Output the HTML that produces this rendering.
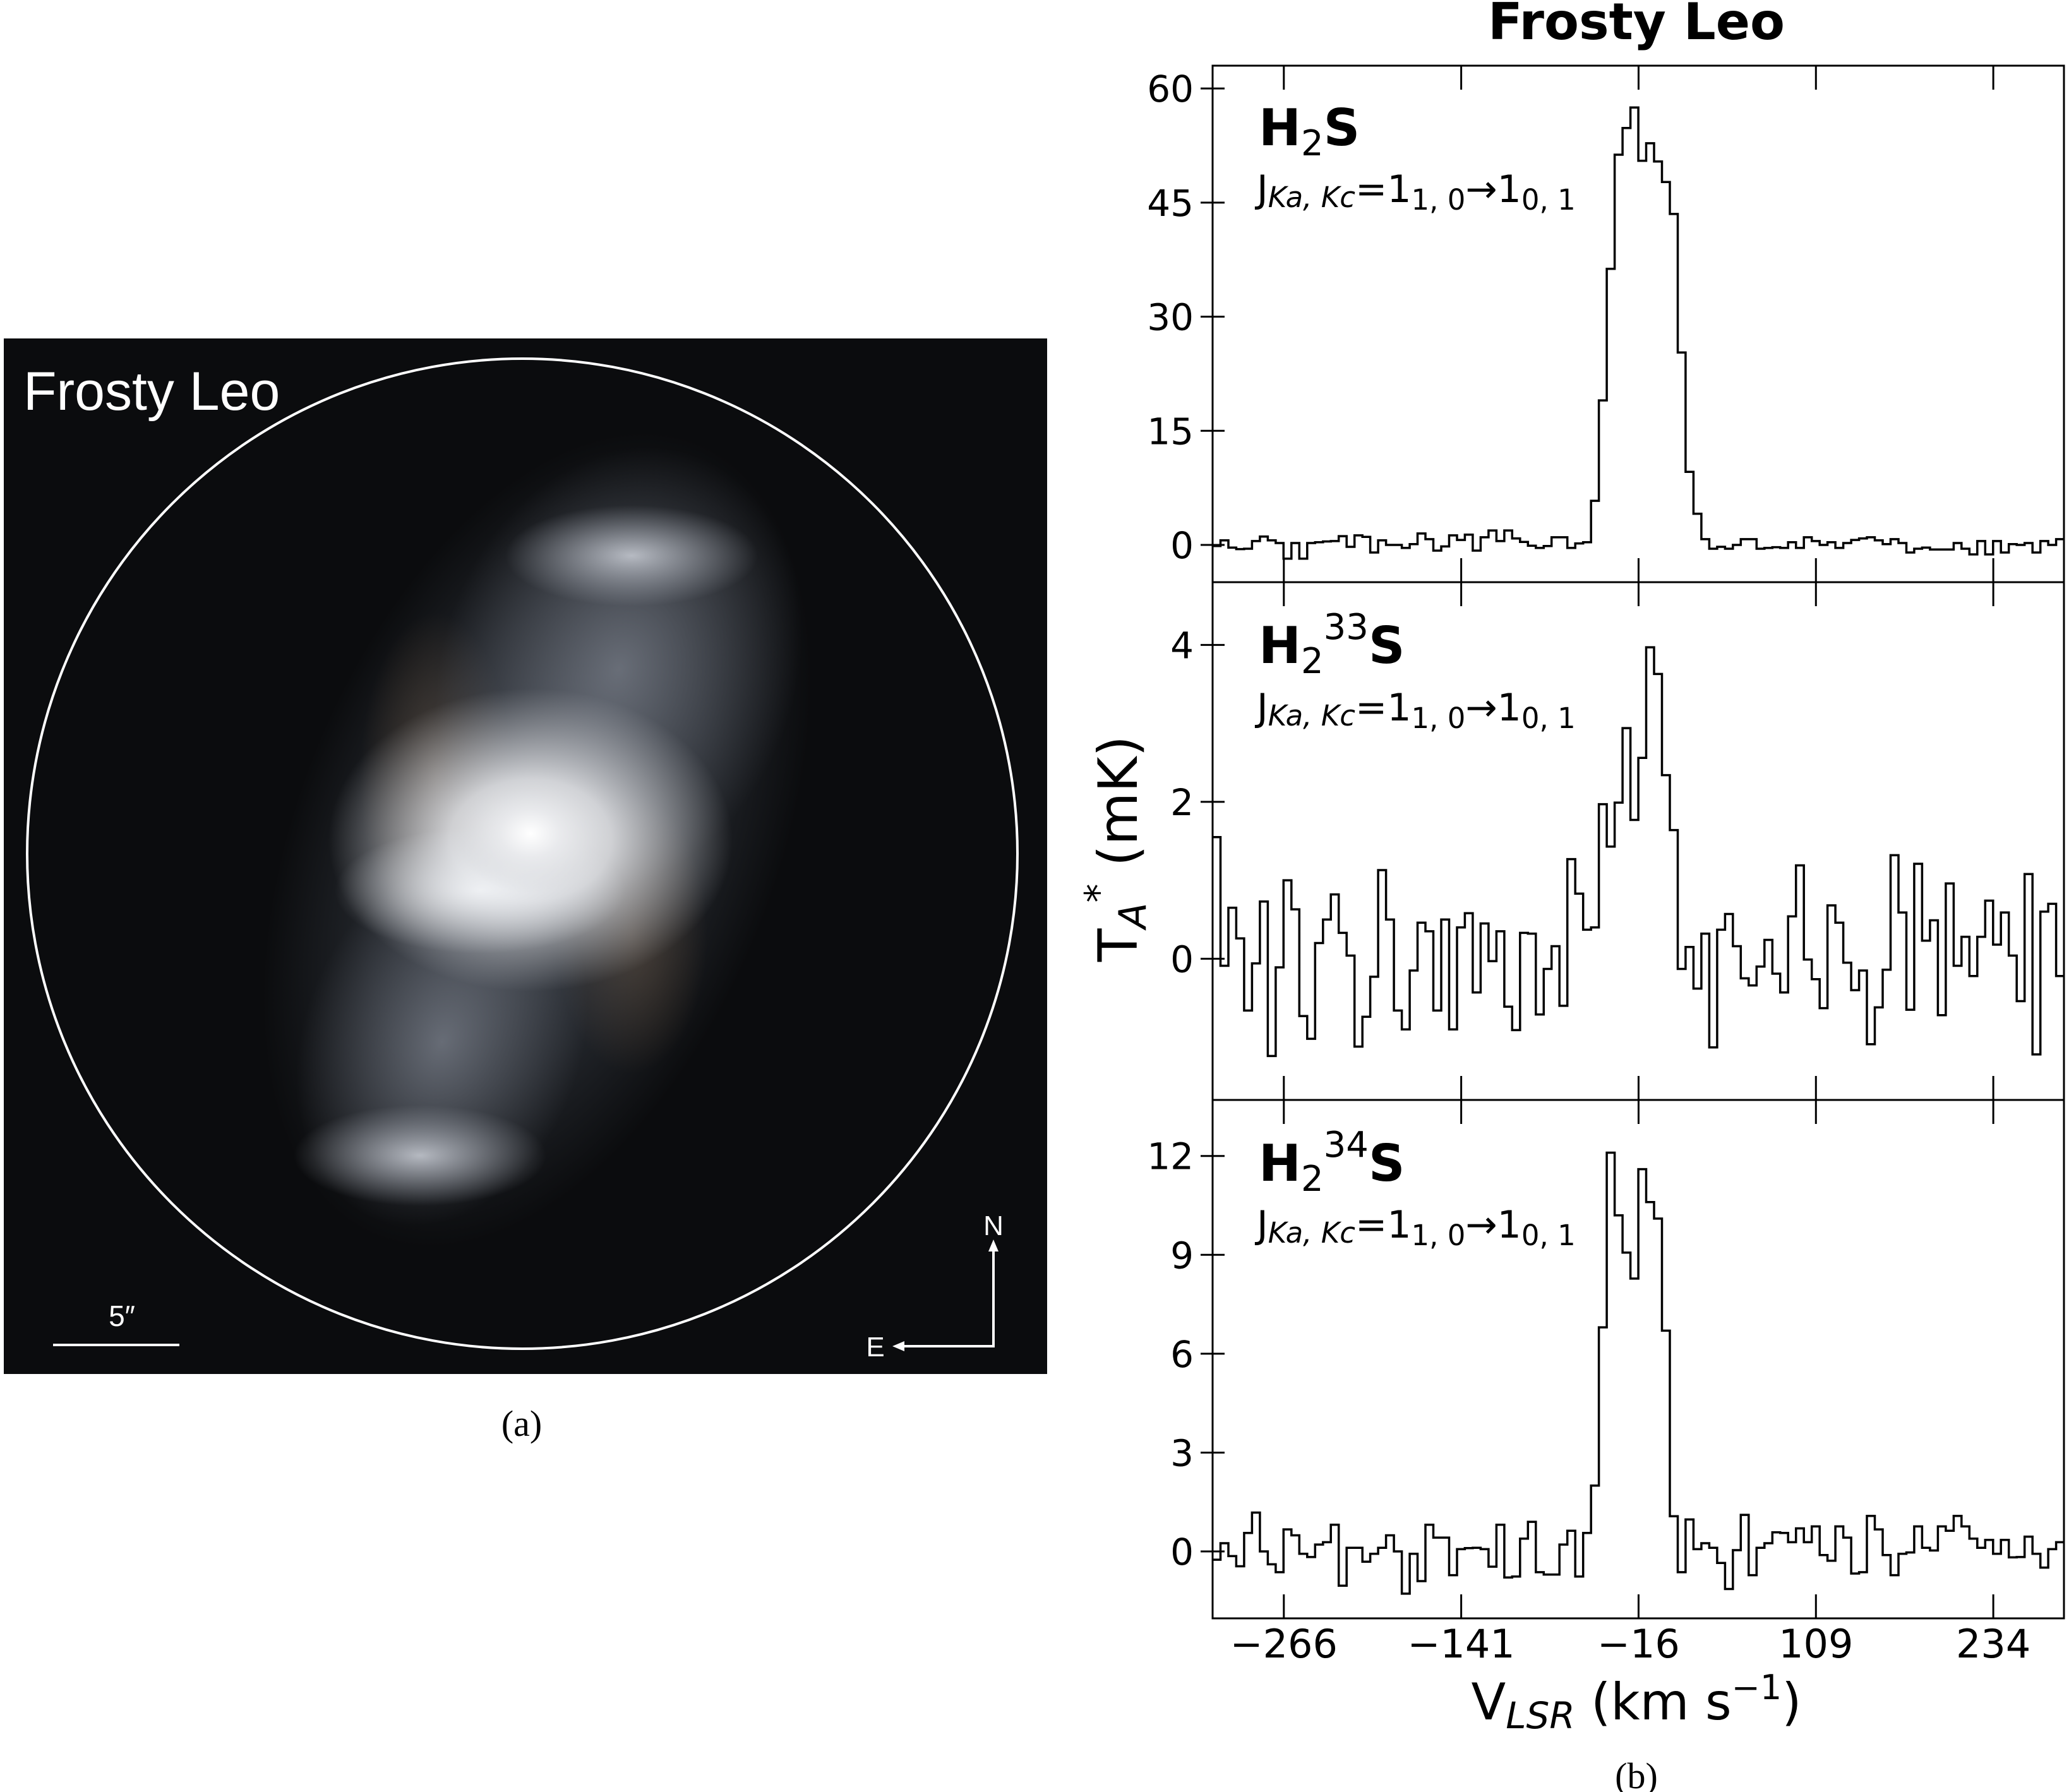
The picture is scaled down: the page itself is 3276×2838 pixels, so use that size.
<!DOCTYPE html>
<html><head><meta charset="utf-8"><style>
html,body{margin:0;padding:0;background:#fff;}
body{width:3276px;height:2838px;position:relative;overflow:hidden;}
svg{position:absolute;left:0;top:0;}
</style></head><body>
<svg id="fig" width="3276" height="2838" viewBox="0 0 3276 2838" xmlns="http://www.w3.org/2000/svg">
<defs>
<radialGradient id="gBrown"><stop offset="0" stop-color="#6e5236" stop-opacity="0.6"/><stop offset="1" stop-color="#6e5236" stop-opacity="0"/></radialGradient>
<radialGradient id="gHalo"><stop offset="0" stop-color="#5a616c" stop-opacity="0.7"/><stop offset="0.6" stop-color="#4d545f" stop-opacity="0.35"/><stop offset="1" stop-color="#4d545f" stop-opacity="0"/></radialGradient>
<radialGradient id="gLobe"><stop offset="0" stop-color="#8a909c" stop-opacity="0.65"/><stop offset="1" stop-color="#7a808c" stop-opacity="0"/></radialGradient>
<radialGradient id="gCap"><stop offset="0" stop-color="#c4c8d0" stop-opacity="0.9"/><stop offset="1" stop-color="#aeb3bd" stop-opacity="0"/></radialGradient>
<radialGradient id="gCore"><stop offset="0" stop-color="#ffffff" stop-opacity="1"/><stop offset="0.4" stop-color="#e8e9ec" stop-opacity="0.85"/><stop offset="1" stop-color="#d0d2d6" stop-opacity="0"/></radialGradient>
<radialGradient id="gBand"><stop offset="0" stop-color="#f2f4f7" stop-opacity="0.9"/><stop offset="1" stop-color="#e4e7ec" stop-opacity="0"/></radialGradient>
<clipPath id="imgclip"><rect x="6" y="536" width="1652" height="1640"/></clipPath>
</defs>
<g>
<rect x="6" y="536" width="1652" height="1640" fill="#0b0c0e"/>
<g clip-path="url(#imgclip)">
<ellipse cx="690" cy="1230" rx="120" ry="260" fill="url(#gBrown)"/>
<ellipse cx="1000" cy="1480" rx="120" ry="220" fill="url(#gBrown)"/>
<ellipse cx="850" cy="1330" rx="380" ry="680" transform="rotate(22 850 1330)" fill="url(#gHalo)"/>
<ellipse cx="980" cy="1060" rx="280" ry="360" transform="rotate(20 980 1060)" fill="url(#gLobe)"/>
<ellipse cx="700" cy="1650" rx="220" ry="300" transform="rotate(20 700 1650)" fill="url(#gLobe)"/>
<ellipse cx="1000" cy="880" rx="200" ry="80" fill="url(#gCap)"/>
<ellipse cx="665" cy="1830" rx="200" ry="80" fill="url(#gCap)"/>
<ellipse cx="840" cy="1330" rx="320" ry="240" fill="url(#gCore)"/>
<ellipse cx="760" cy="1410" rx="230" ry="100" fill="url(#gBand)"/>
<ellipse cx="840" cy="1320" rx="120" ry="95" fill="url(#gCore)"/>
</g>
<circle cx="827" cy="1352" r="784" fill="none" stroke="#ffffff" stroke-width="4"/>
<text x="37" y="649" font-family="Liberation Sans, sans-serif" font-size="86" fill="#ffffff">Frosty Leo</text>
<line x1="84" y1="2130" x2="284" y2="2130" stroke="#fff" stroke-width="4"/>
<text x="193" y="2100" text-anchor="middle" font-family="Liberation Sans, sans-serif" font-size="46" fill="#fff">5″</text>
<g stroke="#fff" stroke-width="4" fill="none">
<polyline points="1573,1975 1573,2132 1425,2132"/>
<polygon points="1573,1963 1565,1982 1581,1982" fill="#fff" stroke="none"/>
<polygon points="1413,2132 1432,2124 1432,2140" fill="#fff" stroke="none"/>
</g>
<text x="1573" y="1956" text-anchor="middle" font-family="Liberation Sans, sans-serif" font-size="44" fill="#fff">N</text>
<text x="1386" y="2148" text-anchor="middle" font-family="Liberation Sans, sans-serif" font-size="44" fill="#fff">E</text>
</g>
<text x="826" y="2274" text-anchor="middle" font-family="Liberation Serif, serif" font-size="58" fill="#000">(a)</text>
<text x="2591" y="62" text-anchor="middle" font-family="DejaVu Sans, sans-serif" font-weight="bold" font-size="80" fill="#000">Frosty Leo</text>
<g id="panels"></g>
<text x="2591" y="2723" text-anchor="middle" font-family="DejaVu Sans, sans-serif" font-size="80" fill="#000">V<tspan font-style="italic" font-size="58" dy="14">LSR</tspan><tspan dy="-14"> (km s</tspan><tspan font-size="54" dy="-32">−1</tspan><tspan dy="32">)</tspan></text>
<text transform="translate(1800,1344) rotate(-90)" text-anchor="middle" font-family="DejaVu Sans, sans-serif" font-size="86" fill="#000">T<tspan font-style="italic" font-size="60" dy="14">A</tspan><tspan font-size="60" dy="-54">*</tspan><tspan dy="40"> (mK)</tspan></text>
<text x="2591" y="2832" text-anchor="middle" font-family="Liberation Serif, serif" font-size="58" fill="#000">(b)</text>
</svg>
<script>
const velStart = -316.2;
const chanWidth = 5.556;
const xTicks = [-266, -141, -16, 109, 234];
const xTickLabels = ["−266", "−141", "−16", "109", "234"];
const h2sValues = [-0.15,0.6,-0.35,-0.55,-0.5,0.5,1.1,0.6,0.25,-1.8,0.25,-1.8,0.25,0.35,0.45,0.5,1.15,-0.25,1.25,1.05,-1.0,0.6,0,0,-0.4,0.1,1.5,0.75,-0.75,-0.2,1.25,0.65,1.35,-0.75,1.0,1.9,0.5,1.9,0.85,0.4,-0.1,-0.4,-0.15,1.0,1.0,-0.4,0.2,0.35,5.8,19.0,36.3,51.3,54.8,57.5,50.5,52.8,50.4,47.7,43.5,25.3,9.6,4.1,0.75,-0.5,-0.25,-0.5,0,0.75,0.75,-0.5,-0.4,-0.3,-0.4,0.35,-0.4,1.0,0.5,0,0.35,-0.4,0.25,0.65,0.85,1.0,0.6,0.1,0.75,0.25,-1.0,-0.5,-0.35,-0.6,-0.6,-0.6,0.25,-0.5,-1.25,0.5,-1.25,0.5,-1.0,0.1,0,0.25,-1.0,0.5,0,0.75];
const h2s33Values = [1.55,-0.09,0.65,0.26,-0.66,-0.06,0.73,-1.24,-0.11,1.0,0.63,-0.73,-1.02,0.2,0.5,0.82,0.33,0.04,-1.12,-0.74,-0.23,1.13,0.5,-0.66,-0.9,-0.15,0.46,0.35,-0.66,0.5,-0.9,0.4,0.58,-0.43,0.45,-0.03,0.35,-0.61,-0.91,0.33,0.32,-0.71,-0.13,0.16,-0.6,1.27,0.83,0.37,0.4,1.97,1.43,1.99,2.94,1.77,2.56,3.97,3.63,2.34,1.64,-0.13,0.15,-0.38,0.32,-1.13,0.37,0.57,0.16,-0.25,-0.34,-0.1,0.24,-0.19,-0.43,0.54,1.19,-0.01,-0.26,-0.63,0.68,0.46,-0.05,-0.4,-0.15,-1.09,-0.62,-0.14,1.32,0.59,-0.65,1.21,0.23,0.49,-0.72,0.96,-0.09,0.28,-0.22,0.28,0.74,0.18,0.59,0.04,-0.54,1.08,-1.22,0.6,0.7,-0.22];
const h2s34Values = [-0.25,0.25,-0.14,-0.45,0.56,1.18,0,-0.39,-0.63,0.67,0.49,-0.07,-0.17,0.21,0.28,0.81,-1.04,0.11,0.11,-0.31,-0.07,0.11,0.49,0,-1.28,-0.07,-0.9,0.81,0.42,0.42,-0.72,0.07,0.1,0.11,0.07,-0.46,0.81,-0.79,-0.76,0.39,0.9,-0.63,-0.7,-0.7,0.21,0.63,-0.76,0.56,2.0,6.8,12.1,10.2,9.07,8.28,11.6,10.6,10.1,6.7,1.07,-0.63,0.97,0.07,0.25,0.11,-0.35,-1.14,0.04,1.11,-0.72,0.11,0.25,0.58,0.56,0.28,0.7,0.28,0.76,-0.11,-0.28,0.76,0.42,-0.67,-0.63,1.08,0.67,-0.11,-0.72,-0.07,-0.03,0.76,0.11,0.03,0.76,0.63,1.08,0.76,0.39,0.11,0.35,-0.07,0.35,-0.18,-0.17,0.45,-0.07,-0.49,0.07,0.28];
const p1Ticks = [0, 15, 30, 45, 60];
const p2Ticks = [0, 2, 4];
const p3Ticks = [0, 3, 6, 9, 12];

const NS = "http://www.w3.org/2000/svg";
const X0 = 1920, X1 = 3268, VMIN = -316.2, VMAX = 283.8;
function xs(v){ return X0 + (v - VMIN) / (VMAX - VMIN) * (X1 - X0); }
const root = document.getElementById('panels');
function mk(tag, attrs, parent){
  const el = document.createElementNS(NS, tag);
  for (const k in attrs) el.setAttribute(k, attrs[k]);
  parent.appendChild(el);
  return el;
}
function panel(name, top, bottom, ymin, ymax, values, ticks, label, iso, labelY, transY){
  const ys = v => bottom - (v - ymin) / (ymax - ymin) * (bottom - top);
  const g = mk('g', {}, root);
  
  
  const fr = mk('rect', {x:X0, y:top, width:X1-X0, height:bottom-top, fill:'none', stroke:'#000', 'stroke-width':3}, g);
  
  
  xTicks.forEach((t) => {
    const x = xs(t);
    const a = mk('line', {x1:x, y1:top, x2:x, y2:top+38, stroke:'#000', 'stroke-width':3}, g);
    
    
    const b = mk('line', {x1:x, y1:bottom, x2:x, y2:bottom-38, stroke:'#000', 'stroke-width':3}, g);
    
    
  });
  ticks.forEach(t => {
    const y = ys(t);
    const l = mk('line', {x1:X0-19, y1:y, x2:X0+19, y2:y, stroke:'#000', 'stroke-width':3}, g);
    
    
    const tx = mk('text', {x:1890, y:y+21, 'text-anchor':'end', 'font-family':'DejaVu Sans, sans-serif', 'font-size':58, fill:'#000'}, g);
    
    
    tx.textContent = String(t);
  });
  let d = '';
  values.forEach((v, i) => {
    const xa = xs(velStart + i * chanWidth), xb = xs(velStart + (i + 1) * chanWidth);
    const y = ys(v);
    d += (i === 0 ? 'M' + xa.toFixed(1) + ' ' + y.toFixed(1) : 'V' + y.toFixed(1)) + 'H' + xb.toFixed(1);
  });
  const p = mk('path', {d:d, fill:'none', stroke:'#000', 'stroke-width':3.5, 'stroke-linejoin':'miter'}, g);
  
  
  const t1 = mk('text', {x:1993, y:labelY, 'font-family':'DejaVu Sans, sans-serif', 'font-weight':'bold', 'font-size':80, fill:'#000'}, g);
  
  
  t1.innerHTML = 'H<tspan font-size="56" font-weight="normal" dy="16">2</tspan>' + (iso ? '<tspan font-size="56" font-weight="normal" dy="-54">' + iso + '</tspan><tspan dy="38">S</tspan>' : '<tspan dy="-16">S</tspan>');
  const t2 = mk('text', {x:1990, y:transY, 'font-family':'DejaVu Sans, sans-serif', 'font-size':60, fill:'#000'}, g);
  
  
  t2.innerHTML = 'J<tspan font-style="italic" font-size="45" dy="8">Ka, Kc</tspan><tspan dy="-8">=1</tspan><tspan font-size="45" dy="12">1, 0</tspan><tspan dy="-12">→1</tspan><tspan font-size="45" dy="12">0, 1</tspan>';
  if (label) {
    xTicks.forEach((t, i) => {
      const tx = mk('text', {x:xs(t), y:2625, 'text-anchor':'middle', 'font-family':'DejaVu Sans, sans-serif', 'font-size':62, fill:'#000'}, g);
      
      
      tx.textContent = xTickLabels[i];
    });
  }
}
panel('h2s', 104, 922, -4.9, 63.0, h2sValues, p1Ticks, false, '', 230, 320);
panel('h2s33', 922, 1742, -1.8, 4.8, h2s33Values, p2Ticks, false, '33', 1050, 1141);
panel('h2s34', 1742, 2563, -2.03, 13.7, h2s34Values, p3Ticks, true, '34', 1870, 1960);
</script>
</body></html>
